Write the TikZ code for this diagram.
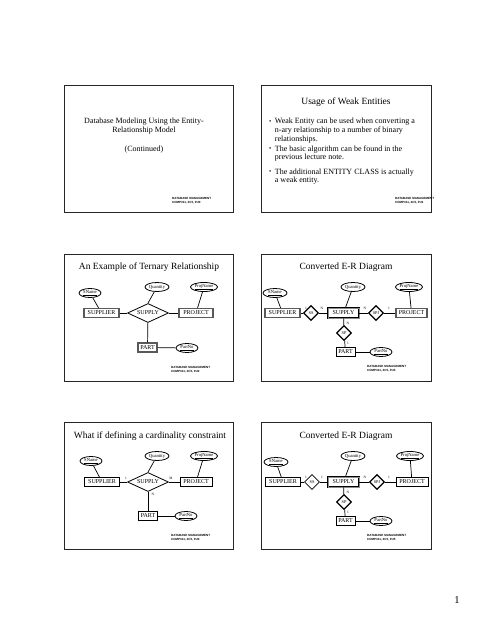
\documentclass[tikz,border=0pt]{standalone}
\usepackage{fontspec}
\setmainfont{Liberation Serif}
\newfontfamily\footfont{Liberation Sans}
\usetikzlibrary{shapes.geometric,positioning}

\begin{document}
\begin{tikzpicture}[x=1pt,y=-1pt,
				slide/.style={draw=black!85,line width=0.8pt},
				title/.style={font=\fontsize{9.5}{11}\selectfont,inner sep=0pt},
				body/.style={font=\fontsize{8}{8.7}\selectfont,inner sep=0pt},
				bullets/.style={body,anchor=north west},
				foot/.style={font=\footfont\bfseries\fontsize{3}{4.2}\selectfont,align=left,anchor=north west,inner sep=0pt},
				entity/.style={draw,line width=0.6pt,minimum width=35pt,minimum height=9pt,inner sep=1pt,font=\fontsize{6}{6}\selectfont},
				gentity/.style={entity,draw=black!65,line width=1.1pt},
				weak/.style={entity,line width=0.6pt,double=black!45,double distance=0.8pt},
				attr/.style={ellipse,draw,line width=0.8pt,minimum width=24pt,minimum height=9pt,inner sep=0pt,font=\fontsize{4.6}{5}\selectfont},
				rel/.style={diamond,draw,line width=0.8pt,aspect=2.1,minimum width=41pt,minimum height=19pt,inner sep=0pt,font=\fontsize{6}{6}\selectfont},
				srel/.style={diamond,draw,fill=white,line width=0.6pt,minimum width=15pt,minimum height=15pt,inner sep=0pt,font=\fontsize{4.3}{4.3}\selectfont},
				idrel/.style={srel,line width=1.3pt},
				card/.style={font=\fontsize{3.5}{4}\selectfont,inner sep=0pt},
				link/.style={line width=0.7pt}]
				\useasboundingbox (0,0) rectangle (495,640);
				% title slide
				\draw[slide] (64,85) rectangle (233,212);
				\node[body,align=center] (t1) at (144,126) {Database Modeling Using the Entity-\\Relationship Model};
				\node[body] (cont) at (144,150) {(Continued)};
				\node[foot] (f1) at (172,197) {DATABASE MANAGEMENT\\COMP311, 3C5, P.20};
				% weak entities
				\draw[slide] (261,85) rectangle (431,212);
				\node[title] (t2) at (346,102) {Usage of Weak Entities};
				\node[bullets] (v1) at (269,117.5) {\begin{tabular}{@{}l@{\hspace{3.5pt}}l@{}}
					\raisebox{0.3pt}{\scalebox{0.8}{\textbullet}} & Weak Entity can be used when converting a\\
					& n-ary relationship to a number of binary\\
					& relationships.
				\end{tabular}};
				\node[bullets] (v2) at (269,145) {\begin{tabular}{@{}l@{\hspace{3.5pt}}l@{}}
					\raisebox{0.3pt}{\scalebox{0.8}{\textbullet}} & The basic algorithm can be found in the\\
					& previous lecture note.
				\end{tabular}};
				\node[bullets] (v3) at (269,168) {\begin{tabular}{@{}l@{\hspace{3.5pt}}l@{}}
					\raisebox{0.3pt}{\scalebox{0.8}{\textbullet}} & The additional ENTITY CLASS is actually\\
					& a weak entity.
				\end{tabular}};
				\node[foot] (f2) at (395,197) {DATABASE MANAGEMENT\\COMP311, 3C5, P.21};

				% ternary relationship
				\draw[slide] (64,254) rectangle (233,381);
				\node[title] (t3) at (149,267) {An Example of Ternary Relationship};
				\node[attr,minimum width=22pt] (a-sname) at (90,293) {\underline{SName}};
				\node[attr] (a-qty) at (157,287) {Quantity};
				\node[attr,minimum width=27pt] (a-pname) at (204,287) {\underline{ProjName}};
				\node[gentity] (a-supplier) at (101.5,313) {SUPPLIER};
				\node[rel] (a-supply) at (148,313) {SUPPLY};
				\node[gentity,minimum width=34pt] (a-project) at (196,313) {PROJECT};
				\node[gentity,minimum width=19pt] (a-part) at (147.5,347.5) {PART};
				\node[attr,minimum width=22pt] (a-partno) at (187,348) {\underline{PartNo}};
				\draw[link] (a-sname) -- (a-supplier);
				\draw[link] (a-qty) -- (a-supply.north);
				\draw[link] (a-pname) -- (a-project);
				\draw[link] (a-supplier) -- (a-supply);
				\draw[link] (a-supply) -- (a-project);
				\draw[link] (a-supply) -- (a-part);
				\draw[link] (a-part) -- (a-partno);
				\node[foot] (f3) at (171,366) {DATABASE MANAGEMENT\\COMP311, 3C5, P.22};

				% converted diagram
				\draw[slide] (261,254) rectangle (431,381);
				\node[title] (t4) at (346,267) {Converted E-R Diagram};
				\node[attr] (b-sname) at (275,293) {\underline{SName}};
				\node[gentity] (b-supplier) at (282.5,313) {SUPPLIER};
				\node[idrel] (b-ss) at (311,313) {SS};
				\node[weak,minimum width=31pt,minimum height=10pt] (b-supply) at (343.5,313) {SUPPLY};
				\node[attr] (b-qty) at (353,287) {Quantity};
				\node[idrel] (b-spj) at (376,313) {SPJ};
				\node[gentity,minimum width=31pt] (b-project) at (411.5,313) {PROJECT};
				\node[attr,minimum width=27pt] (b-pname) at (409,287) {\underline{ProjName}};
				\node[idrel] (b-sp) at (344,333) {SP};
				\node[entity,minimum width=19pt] (b-part) at (345.5,352) {PART};
				\node[attr,minimum width=22pt] (b-partno) at (381,352) {\underline{PartNo}};
				\draw[link] (b-sname) -- (b-supplier);
				\draw[link] (b-qty) -- (b-supply);
				\draw[link] (b-pname) -- (b-project);
				\draw[link] (b-supplier) -- (b-ss);
				\draw[link] (b-ss) -- (b-supply);
				\draw[link] (b-supply) -- (b-spj);
				\draw[link] (b-spj) -- (b-project);
				\draw[link] (b-supply) -- (b-sp);
				\draw[link] (b-sp) -- (b-part);
				\draw[link] (b-part) -- (b-partno);
				\node[card] (b-c1) at (306,308) {1};
				\node[card] (b-c2) at (322,308) {N};
				\node[card] (b-c3) at (365,308) {N};
				\node[card] (b-c4) at (389,308) {1};
				\node[card] (b-c5) at (348,323) {N};
				\node[card] (b-c6) at (348,343) {1};
				\node[foot] (f4) at (367,365) {DATABASE MANAGEMENT\\COMP311, 3C5, P.23};

				% cardinality constraint
				\draw[slide] (64,422) rectangle (233,549);
				\node[title] (t5) at (150,436) {What if defining a cardinality constraint};
				\node[attr,minimum width=22pt] (c-sname) at (91,461) {\underline{SName}};
				\node[attr] (c-qty) at (157,456) {Quantity};
				\node[attr,minimum width=27pt] (c-pname) at (204,456) {\underline{ProjName}};
				\node[entity] (c-supplier) at (102,482) {SUPPLIER};
				\node[rel] (c-supply) at (148,482) {SUPPLY};
				\node[entity,minimum width=32pt] (c-project) at (196,482) {PROJECT};
				\node[entity,minimum width=19pt] (c-part) at (148,516) {PART};
				\node[attr,minimum width=22pt] (c-partno) at (186,516) {\underline{PartNo}};
				\draw[link] (c-sname) -- (c-supplier);
				\draw[link] (c-qty) -- (c-supply.north);
				\draw[link] (c-pname) -- (c-project);
				\draw[link] (c-supplier) -- (c-supply);
				\draw[link] (c-supply) -- (c-project);
				\draw[link] (c-supply) -- (c-part);
				\draw[link] (c-part) -- (c-partno);
				\node[card] (c-c1) at (126,478) {1};
				\node[card] (c-c2) at (171,478) {M};
				\node[card] (c-c3) at (153,494) {N};
				\node[foot] (f5) at (171,534) {DATABASE MANAGEMENT\\COMP311, 3C5, P.24};

				% converted diagram again
				\draw[slide] (261,422) rectangle (431,549);
				\node[title] (t6) at (346,436) {Converted E-R Diagram};
				\node[attr] (d-sname) at (276,462) {\underline{SName}};
				\node[entity] (d-supplier) at (283,482) {SUPPLIER};
				\node[srel] (d-ss) at (312,482) {SS};
				\node[weak,minimum width=31pt,minimum height=10pt] (d-supply) at (343.5,482) {SUPPLY};
				\node[attr] (d-qty) at (353,456) {Quantity};
				\node[idrel] (d-spj) at (377,482) {SPJ};
				\node[entity,minimum width=32pt] (d-project) at (412,482) {PROJECT};
				\node[attr,minimum width=27pt] (d-pname) at (410,456) {\underline{ProjName}};
				\node[idrel] (d-sp) at (344,502) {SP};
				\node[entity,minimum width=19pt] (d-part) at (345.5,521) {PART};
				\node[attr,minimum width=22pt] (d-partno) at (381,521) {\underline{PartNo}};
				\draw[link] (d-sname) -- (d-supplier);
				\draw[link] (d-qty) -- (d-supply);
				\draw[link] (d-pname) -- (d-project);
				\draw[link] (d-supplier) -- (d-ss);
				\draw[link] (d-ss) -- (d-supply);
				\draw[link] (d-supply) -- (d-spj);
				\draw[link] (d-spj) -- (d-project);
				\draw[link] (d-supply) -- (d-sp);
				\draw[link] (d-sp) -- (d-part);
				\draw[link] (d-part) -- (d-partno);
				\node[card] (d-c1) at (306,477) {1};
				\node[card] (d-c2) at (322,477) {1};
				\node[card] (d-c3) at (365,477) {N};
				\node[card] (d-c4) at (389,477) {1};
				\node[card] (d-c5) at (348,492) {N};
				\node[card] (d-c6) at (348,512) {1};
				\node[foot] (f6) at (367,534) {DATABASE MANAGEMENT\\COMP311, 3C5, P.25};

				\node[font=\fontsize{10.5}{12}\selectfont] (pg) at (457,600) {1};
			\end{tikzpicture}
\end{document}
